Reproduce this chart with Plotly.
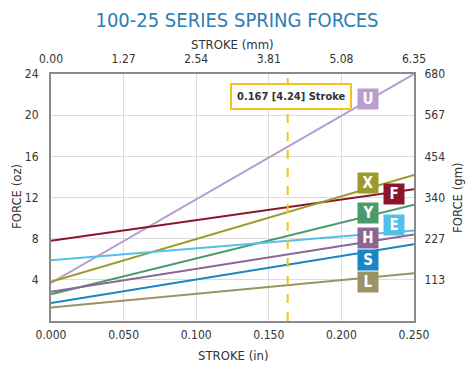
import plotly.graph_objects as go

# ---- data ----
stroke_in = [0.0, 0.25]
series_names = ["U", "F", "X", "Y", "E", "H", "S", "L"]
force_start = [3.7, 7.8, 3.8, 2.6, 5.9, 2.85, 1.75, 1.3]
force_end = [24.0, 12.8, 14.2, 11.3, 8.8, 8.4, 7.45, 4.63]
series_colors = ["#b79fcf", "#8c1529", "#9c9a2c", "#4b9a6c", "#52c0ea", "#8a6796", "#1b84c6", "#9a9362"]
label_x = [0.218, 0.236, 0.218, 0.218, 0.236, 0.218, 0.218, 0.218]
label_y = [21.6, 12.3, 13.4, 10.5, 9.3, 8.1, 5.9, 3.75]

x_ticks_in = [0.0, 0.05, 0.10, 0.15, 0.20, 0.25]
x_ticktext_in = ["0.000", "0.050", "0.100", "0.150", "0.200", "0.250"]
x_ticks_mm = [0.0, 1.27, 2.54, 3.81, 5.08, 6.35]
x_ticktext_mm = ["0.00", "1.27", "2.54", "3.81", "5.08", "6.35"]
y_ticks_oz = [4, 8, 12, 16, 20, 24]
y_ticks_gm = [113.4, 226.8, 340.2, 453.6, 567.0, 680.4]
y_ticktext_gm = ["113", "227", "340", "454", "567", "680"]

stroke_marker = 0.163
stroke_label = "0.167 [4.24] Stroke"

FONT = "Liberation Sans Narrow, DejaVu Sans Condensed, Arial Narrow, sans-serif"
TXT = "#333333"
GRID = "#dcdcdc"
FRAME = "#8a8a8a"

# page has an 8px body margin; work in page pixels and convert
OFF = 8
W, H = 474 - OFF, 371 - OFF
L, R, T, B = 51 - OFF, 60, 74 - OFF, 50
pw, ph = W - L - R, H - T - B


def px_to_paper_x(px):
    return (px - OFF - L) / pw


def px_to_paper_y(py):
    return (H - B - (py - OFF)) / ph


fig = go.Figure()
for name, s, e, c in zip(series_names, force_start, force_end, series_colors):
    fig.add_trace(go.Scatter(x=stroke_in, y=[s, e], mode="lines", name=name,
                             line=dict(color=c, width=2), showlegend=False))

# invisible traces to activate secondary axes
fig.add_trace(go.Scatter(x=[0, 6.35], y=[None, None], xaxis="x2", yaxis="y", showlegend=False, hoverinfo="skip"))
fig.add_trace(go.Scatter(x=[0, 0.25], y=[None, None], xaxis="x", yaxis="y2", showlegend=False, hoverinfo="skip"))

fig.add_shape(type="line", x0=stroke_marker, x1=stroke_marker, y0=0, y1=24, xref="x", yref="y",
              line=dict(color="#f5c21b", width=2, dash="dash"))

axis_title_font = dict(family=FONT, size=13, color=TXT)
annotations = [
    dict(x=0.165, y=21.8, xref="x", yref="y", text="<b>" + stroke_label + "</b>",
         showarrow=False, bgcolor="white", bordercolor="#f5c21b", borderwidth=2, borderpad=5,
         font=dict(family=FONT, size=11, color=TXT)),
    dict(x=px_to_paper_x(232.5), y=px_to_paper_y(45), text="STROKE (mm)"),
    dict(x=px_to_paper_x(232.5), y=px_to_paper_y(355), text="STROKE (in)"),
    dict(x=px_to_paper_x(16), y=px_to_paper_y(197), text="FORCE (oz)", textangle=-90),
    dict(x=px_to_paper_x(457), y=px_to_paper_y(198), text="FORCE (gm)", textangle=-90),
]
for a in annotations[1:]:
    a.update(xref="paper", yref="paper", xanchor="center", yanchor="middle", showarrow=False,
             font=axis_title_font)

for name, lx, ly, c in zip(series_names, label_x, label_y, series_colors):
    annotations.append(dict(x=lx, y=ly, xref="x", yref="y", text="<b>" + name + "</b>", showarrow=False,
                            bgcolor=c, width=20, height=20, borderpad=0,
                            font=dict(family=FONT, size=15, color="white")))

tickfont = dict(family=FONT, size=12, color=TXT)
fig.update_layout(
    width=W, height=H,
    margin=dict(l=L, r=R, t=T, b=B),
    paper_bgcolor="white", plot_bgcolor="white",
    font=dict(family=FONT, size=12, color=TXT),
    title=dict(text="100-25 SERIES SPRING FORCES", x=px_to_paper_x(237), xref="paper", xanchor="center",
               y=1 - (20 - OFF) / H, yanchor="middle",
               font=dict(family=FONT, size=20, color="#2b7db3")),
    xaxis=dict(range=[0, 0.25], tickvals=x_ticks_in, ticktext=x_ticktext_in, showgrid=True, gridcolor=GRID,
               zeroline=False, showline=True, linecolor=FRAME, linewidth=2, ticks="", automargin=False,
               ticklabelstandoff=2, tickfont=tickfont),
    xaxis2=dict(range=[0, 6.35], tickvals=x_ticks_mm, ticktext=x_ticktext_mm, overlaying="x", side="top",
                showgrid=False, zeroline=False, showline=True, linecolor=FRAME, linewidth=2, ticks="",
                automargin=False, ticklabelstandoff=4, tickfont=tickfont),
    yaxis=dict(range=[0, 24], tickvals=y_ticks_oz, showgrid=True, gridcolor=GRID, zeroline=False,
               showline=True, linecolor=FRAME, linewidth=2, ticks="", automargin=False,
               ticklabelstandoff=8, tickfont=tickfont),
    yaxis2=dict(range=[0, 680.4], tickvals=y_ticks_gm, ticktext=y_ticktext_gm, overlaying="y", side="right",
                showgrid=False, zeroline=False, showline=True, linecolor=FRAME, linewidth=2, ticks="",
                automargin=False, ticklabelstandoff=6, tickfont=tickfont),
    annotations=annotations,
)

fig.write_html("out.html")
